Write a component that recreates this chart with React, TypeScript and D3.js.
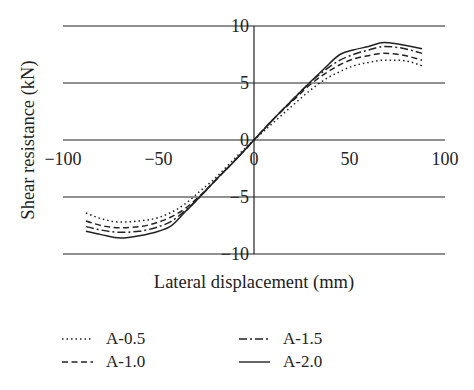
import * as d3 from "d3";

// lateral displacement (mm), shared by all series
const displacement = [-88, -80, -70, -60, -50, -44, -36, -29, -20, -10, 0, 10, 20, 29, 37, 45, 52, 60, 68, 76, 88];

// shear resistance (kN)
const a05 = [-6.4, -6.9, -7.2, -7.1, -6.8, -6.4, -5.6, -4.6, -3.3, -1.6, 0, 1.5, 3.0, 4.3, 5.3, 6.0, 6.5, 6.8, 7.0, 7.0, 6.5];
const a10 = [-7.1, -7.5, -7.7, -7.6, -7.2, -6.8, -6.0, -5.0, -3.5, -1.8, 0, 1.8, 3.4, 4.8, 5.8, 6.6, 7.1, 7.4, 7.6, 7.5, 7.0];
const a15 = [-7.6, -7.9, -8.1, -8.0, -7.6, -7.2, -6.2, -5.1, -3.5, -1.8, 0, 1.8, 3.5, 5.0, 6.1, 7.0, 7.5, 7.9, 8.2, 8.1, 7.6];
const a20 = [-8.0, -8.3, -8.6, -8.4, -8.0, -7.6, -6.3, -5.1, -3.5, -1.8, 0, 1.8, 3.5, 5.0, 6.3, 7.5, 7.9, 8.2, 8.55, 8.4, 8.0];

const seriesNames = ["A-0.5", "A-1.0", "A-1.5", "A-2.0"];
const dashes = ["1.5 3", "6 3.5", "8 3 2 3", "none"];

const xTicks = [-100, -50, 0, 50, 100];
const yTicks = [10, 5, 0, -5, -10];

export default function App() {
  const width = 474;
  const height = 390;
  const ink = "#222";
  const font = "'Liberation Serif', 'Times New Roman', serif";

  const x = d3.scaleLinear([-100, 100], [63, 445]);
  const y = d3.scaleLinear([-10, 10], [254, 26]);

  const line = d3.line<number>()
    .x((_, i) => x(displacement[i]))
    .y((d) => y(d))
    .curve(d3.curveMonotoneX);

  const series = [a05, a10, a15, a20];

  return (
    <svg width={width} height={height} style={{ position: "absolute", left: 0, top: 0 }}>
      <rect width={width} height={height} fill="white" />

      {/* horizontal grid lines + vertical axis */}
      <g stroke={ink} strokeWidth={1.2}>
        {yTicks.map((t) => (
          <line key={t} x1={x(-100)} x2={x(100)} y1={y(t)} y2={y(t)} />
        ))}
        <line x1={x(0)} x2={x(0)} y1={y(10)} y2={y(-10)} />
      </g>

      {/* y tick labels */}
      <g fontFamily={font} fontSize={18} fill={ink} textAnchor="end">
        {yTicks.map((t) => (
          <text key={t} x={x(0) - 5} y={y(t)} dy="0.35em">
            {t < 0 ? `\u2212${Math.abs(t)}` : t}
          </text>
        ))}
      </g>

      {/* x tick labels */}
      <g fontFamily={font} fontSize={18} fill={ink} textAnchor="middle">
        {xTicks.map((t) => (
          <text key={t} x={x(t)} y={165}>
            {t < 0 ? `\u2212${Math.abs(t)}` : t}
          </text>
        ))}
      </g>

      {/* series */}
      <g fill="none" stroke={ink} strokeWidth={1.5}>
        {series.map((s, i) => (
          <path key={seriesNames[i]} d={line(s) ?? undefined} strokeDasharray={dashes[i]} />
        ))}
      </g>

      {/* axis titles */}
      <text x={x(0)} y={288} fontFamily={font} fontSize={18.5} fill={ink} textAnchor="middle">
        Lateral displacement (mm)
      </text>
      <text
        transform={`translate(34,${y(0)}) rotate(-90)`}
        fontFamily={font}
        fontSize={18.5}
        fill={ink}
        textAnchor="middle"
      >
        Shear resistance (kN)
      </text>

      {/* legend */}
      <g fontFamily={font} fontSize={17} fill={ink}>
        {seriesNames.map((name, i) => {
          const col = i < 2 ? 0 : 1;
          const row = i % 2;
          const lx = 62 + col * 177;
          const ly = 339 + row * 23;
          return (
            <g key={name}>
              <line x1={lx} x2={lx + 31} y1={ly} y2={ly} stroke={ink} strokeWidth={1.4} strokeDasharray={dashes[i]} />
              <text x={lx + 44} y={ly + 5}>{name}</text>
            </g>
          );
        })}
      </g>
    </svg>
  );
}
